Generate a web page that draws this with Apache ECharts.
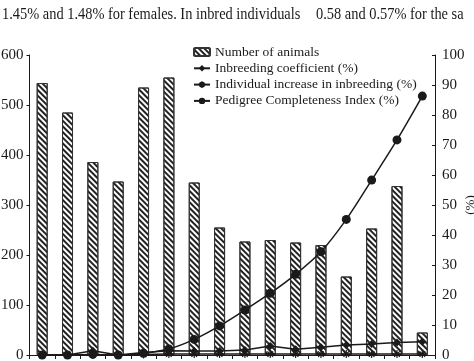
<!DOCTYPE html>
<html>
<head>
<meta charset="utf-8">
<style>html,body{margin:0;padding:0;background:#fff;}#c{width:474px;height:361px;}</style>
<script src="https://cdn.jsdelivr.net/npm/echarts@6/dist/echarts.min.js"></script>
</head>
<body>
<div id="c"></div>
<script>
var categories = ['1','2','3','4','5','6','7','8','9','10','11','12','13','14','15','16'];
var animals = [544, 485, 386, 347, 535, 555, 345, 255, 227, 230, 225, 220, 157, 253, 338, 45];
var inbreeding = [0, 0, 1.4, 0, 0.8, 1.4, 1.3, 1.3, 1.7, 3.0, 1.9, 2.6, 3.3, 3.7, 4.2, 4.4];
var increase = [0, 0, 0.2, 0, 0.2, 0.3, 0.3, 0.3, 0.3, 0.3, 0.3, 0.3, 0.3, 0.3, 0.3, 0.3];
var pci = [0, 0, 0.2, 0, 0.6, 2, 5.2, 9.7, 15, 20.6, 26.9, 34.4, 45.2, 58.3, 71.7, 86.3];
var leftTicks = [0, 600, 100];
var rightTicks = [0, 100, 10];

var serif = '"Liberation Serif", "DejaVu Serif", serif';
var ink = '#1a1a1a';
var asterisk = 'path://M5 0L5 10M0 5L10 5M1.5 1.5L8.5 8.5M8.5 1.5L1.5 8.5';

var chart = echarts.init(document.getElementById('c'));
chart.setOption({
  animation: false,
  backgroundColor: '#fff',
  graphic: [
    {type: 'text', left: 2, top: 7, scaleX: 0.9, style: {text: '1.45% and 1.48% for females. In inbred individuals', font: '16px ' + serif, fill: ink}},
    {type: 'text', left: 316, top: 7, scaleX: 0.9, style: {text: '0.58 and 0.57% for the sa', font: '16px ' + serif, fill: ink}}
  ],
  grid: {left: 29.5, right: 39, top: 55, bottom: 6, containLabel: false, outerBoundsMode: 'none'},
  legend: {
    orient: 'vertical', left: 188, top: 40, itemGap: 2.3, itemWidth: 16, itemHeight: 8,
    textStyle: {fontFamily: serif, fontSize: 13.5, color: ink, lineHeight: 14},
    data: ['Number of animals', 'Inbreeding coefficient (%)', 'Individual increase in inbreeding (%)', 'Pedigree Completeness Index (%)']
  },
  xAxis: {
    type: 'category', data: categories, boundaryGap: true,
    axisLine: {lineStyle: {color: ink, width: 1}},
    axisTick: {show: true, length: 4, interval: 0, lineStyle: {color: ink}},
    axisLabel: {show: false}
  },
  yAxis: [
    {
      type: 'value', min: leftTicks[0], max: leftTicks[1], interval: leftTicks[2],
      axisLine: {show: true, lineStyle: {color: ink}},
      axisTick: {show: true, length: 3, lineStyle: {color: ink}},
      splitLine: {show: false},
      axisLabel: {fontFamily: serif, fontSize: 15, color: ink, margin: 6}
    },
    {
      type: 'value', min: rightTicks[0], max: rightTicks[1], interval: rightTicks[2], position: 'right',
      name: '(%)', nameLocation: 'middle', nameRotate: 90, nameGap: 29, nameMoveOverlap: false,
      nameTextStyle: {fontFamily: serif, fontSize: 13, color: ink},
      axisLine: {show: true, lineStyle: {color: ink}},
      axisTick: {show: true, inside: true, length: 3, lineStyle: {color: ink}},
      splitLine: {show: false},
      axisLabel: {fontFamily: serif, fontSize: 15, color: ink, margin: 7}
    }
  ],
  series: [
    {
      name: 'Number of animals', type: 'bar', data: animals, barWidth: 11, yAxisIndex: 0,
      itemStyle: {
        color: '#fff', borderColor: '#333', borderWidth: 1,
        decal: {color: '#222', symbol: 'rect', symbolSize: 1, dashArrayX: [1, 0], dashArrayY: [1.6, 1.8], rotation: Math.PI / 4}
      }
    },
    {
      name: 'Inbreeding coefficient (%)', type: 'line', yAxisIndex: 1, data: inbreeding,
      symbol: 'diamond', symbolSize: 8,
      lineStyle: {color: ink, width: 1.5}, itemStyle: {color: ink}
    },
    {
      name: 'Individual increase in inbreeding (%)', type: 'line', yAxisIndex: 1, data: increase,
      symbol: asterisk, symbolSize: 8,
      lineStyle: {color: ink, width: 1.5}, itemStyle: {color: ink, borderColor: ink, borderWidth: 1.2}
    },
    {
      name: 'Pedigree Completeness Index (%)', type: 'line', yAxisIndex: 1, data: pci,
      symbol: 'circle', symbolSize: 9, smooth: 0.3,
      lineStyle: {color: ink, width: 1.5}, itemStyle: {color: ink}
    }
  ]
});
</script>
</body>
</html>
